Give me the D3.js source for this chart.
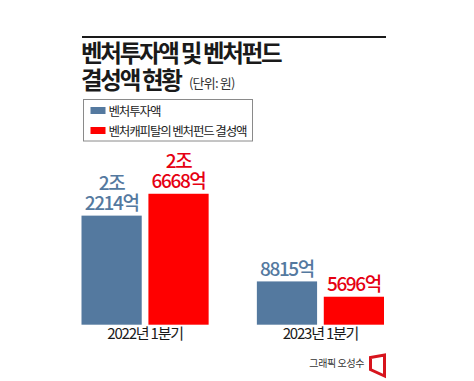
<!DOCTYPE html>
<html>
<head>
<meta charset="utf-8">
<script src="https://cdn.jsdelivr.net/npm/d3@7"></script>
<style>
  html, body { margin: 0; padding: 0; background: #fff; }
  svg { display: block; }
  text { font-family: "Noto Sans CJK KR", sans-serif; }
</style>
</head>
<body>
<div id="chart"></div>
<script>
var periods = ["2022년 1분기", "2023년 1분기"];
var seriesNames = ["벤처투자액", "벤처캐피탈의 벤처펀드 결성액"];
var seriesColors = ["#54799f", "#ff0000"];
var labelColors = ["#54799f", "#e60012"];
var investValues = [22214, 8815];
var fundValues = [26668, 5696];
var investLabels = [["2조", "2214억"], ["8815억"]];
var fundLabels = [["2조", "6668억"], ["5696억"]];

var width = 474, height = 381;

var svg = d3.select("#chart")
    .append("svg")
    .attr("width", width)
    .attr("height", height);

// 상단 제목
svg.append("rect")
    .attr("x", 82).attr("y", 36)
    .attr("width", 304).attr("height", 2)
    .attr("fill", "#1a1a1a");

svg.append("text")
    .attr("x", 81).attr("y", 62)
    .attr("font-size", 23.5).attr("font-weight", 700)
    .attr("letter-spacing", -2.3)
    .attr("fill", "#1a1a1a")
    .text("벤처투자액 및 벤처펀드");

svg.append("text")
    .attr("x", 81).attr("y", 89)
    .attr("font-size", 23.5).attr("font-weight", 700)
    .attr("letter-spacing", -2.3)
    .attr("fill", "#1a1a1a")
    .text("결성액 현황");

svg.append("text")
    .attr("x", 189).attr("y", 88)
    .attr("font-size", 13)
    .attr("letter-spacing", -0.8)
    .attr("fill", "#333")
    .text("(단위: 원)");

// 범례
svg.append("rect")
    .attr("x", 83.5).attr("y", 99.5)
    .attr("width", 169).attr("height", 41.5)
    .attr("fill", "#fff")
    .attr("stroke", "#8a8a8a");

var legend = svg.selectAll(".legend")
    .data(seriesNames)
    .enter().append("g")
    .attr("class", "legend")
    .attr("transform", function(d, i) { return "translate(90.5," + (107 + i * 20) + ")"; });

legend.append("rect")
    .attr("width", 15).attr("height", 7)
    .attr("fill", function(d, i) { return seriesColors[i]; });

legend.append("text")
    .attr("x", 18).attr("y", 8.5)
    .attr("font-size", 12.5)
    .attr("letter-spacing", -1.15)
    .attr("fill", "#222")
    .text(function(d) { return d; });

// 스케일
var x0 = d3.scaleBand()
    .domain(periods)
    .range([81.5, 384])
    .paddingInner(0.275);

var x1 = d3.scaleBand()
    .domain([0, 1])
    .range([0, x0.bandwidth()])
    .paddingInner(0.1);

var y = d3.scaleLinear()
    .domain([0, 30000])
    .range([324.7, 177.4]);

var rows = [];
periods.forEach(function(p, i) {
  rows.push({period: p, s: 0, value: investValues[i], label: investLabels[i]});
  rows.push({period: p, s: 1, value: fundValues[i], label: fundLabels[i]});
});

svg.selectAll(".bar")
    .data(rows)
    .enter().append("rect")
    .attr("class", "bar")
    .attr("x", function(d) { return x0(d.period) + x1(d.s); })
    .attr("y", function(d) { return y(d.value); })
    .attr("width", x1.bandwidth())
    .attr("height", function(d) { return y(0) - y(d.value); })
    .attr("fill", function(d) { return seriesColors[d.s]; });

// 값 라벨
var valueText = svg.selectAll(".value")
    .data(rows)
    .enter().append("text")
    .attr("class", "value")
    .attr("text-anchor", "middle")
    .attr("font-size", 19)
    .attr("font-weight", 500)
    .attr("letter-spacing", -1.4)
    .attr("fill", function(d) { return labelColors[d.s]; })
    .attr("transform", function(d) {
      return "translate(" + (x0(d.period) + x1(d.s) + x1.bandwidth() / 2) + "," + (y(d.value) - 5.5) + ")";
    });

valueText.selectAll("tspan")
    .data(function(d) { return d.label; })
    .enter().append("tspan")
    .attr("x", 0)
    .attr("y", function(d, i, nodes) { return (i - nodes.length + 1) * 20.5; })
    .text(function(d) { return d; });

// 축 라벨
var axis = svg.append("g")
    .attr("transform", "translate(0," + y(0) + ")")
    .call(d3.axisBottom(x0).tickSize(0).tickPadding(4));

axis.select(".domain").remove();
axis.selectAll("text")
    .attr("font-size", 15)
    .attr("letter-spacing", -1.2)
    .attr("fill", "#1a1a1a")
    .style("font-family", "\"Noto Sans CJK KR\", sans-serif");

// 크레딧
svg.append("text")
    .attr("x", 364).attr("y", 367)
    .attr("text-anchor", "end")
    .attr("font-size", 10)
    .attr("letter-spacing", -0.4)
    .attr("fill", "#333")
    .text("그래픽 오성수");

svg.append("path")
    .attr("d", "M370.5 357.5 L384.5 355 L384.5 376 L370.5 369.5 Z")
    .attr("fill", "none")
    .attr("stroke", "#d7141d")
    .attr("stroke-width", 3);
</script>
</body>
</html>
